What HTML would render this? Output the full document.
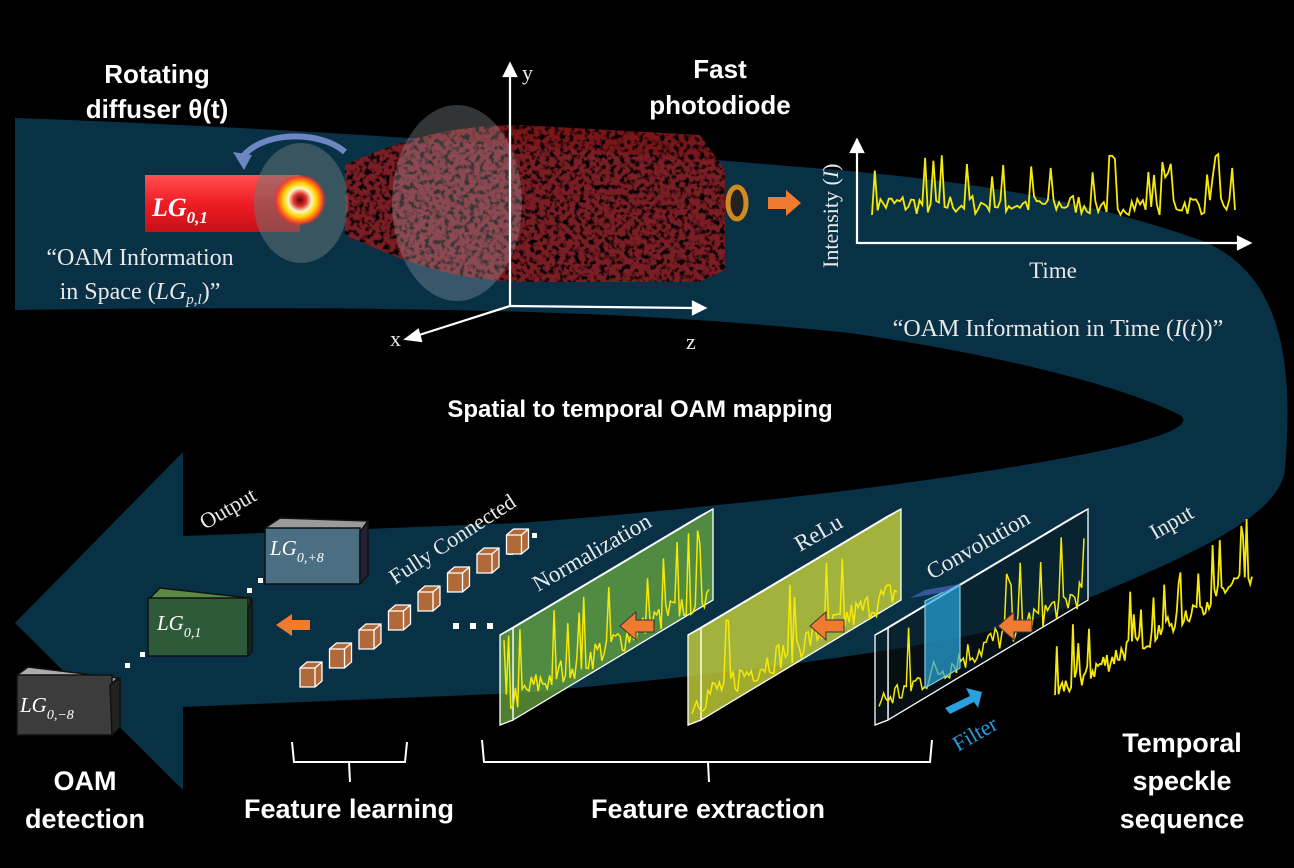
<!DOCTYPE html>
<html><head><meta charset="utf-8"><style>
html,body{margin:0;padding:0;background:#000;}
svg{display:block}
.sans{font-family:"Liberation Sans",sans-serif;font-weight:bold;fill:#fff}
.ser{font-family:"Liberation Serif",serif;fill:#e8e8e8}
</style></head><body>
<svg id="s" width="1294" height="868" viewBox="0 0 1294 868" xmlns="http://www.w3.org/2000/svg">
<defs>
<linearGradient id="beam" x1="0" y1="0" x2="0" y2="1"><stop offset="0" stop-color="#ff5050"/><stop offset="0.5" stop-color="#ee1c24"/><stop offset="1" stop-color="#c81018"/></linearGradient>
<radialGradient id="donut"><stop offset="0" stop-color="#600"/><stop offset="0.25" stop-color="#d33"/><stop offset="0.45" stop-color="#fff8c0"/><stop offset="0.65" stop-color="#ffd000"/><stop offset="0.85" stop-color="#ff5020"/><stop offset="1" stop-color="#ff2020" stop-opacity="0"/></radialGradient>
<filter id="speck" x="0" y="0" width="100%" height="100%"><feTurbulence type="fractalNoise" baseFrequency="0.2" numOctaves="2" seed="3"/><feColorMatrix values="0 0 0 0 0  0 0 0 0 0  0 0 0 0 0  0 0 0 4 -1.9"/><feComposite in2="SourceGraphic" operator="in"/></filter>
</defs>
<path d="M15,118 C300,128 600,150 850,171 C1000,185 1100,205 1200,240 C1290,275 1292,380 1285,470 C1278,520 1180,560 1050,614 C980,640 800,668 520,693 L183,707 L183,790 L15,623 L183,452 L183,536 L520,523 C750,505 950,480 1080,455 C1160,440 1195,425 1180,415 C1120,385 1000,355 850,333 C700,318 520,303 15,310 Z" fill="#0b3a52" opacity="0.85"/>
<text class="sans" font-size="26" text-anchor="middle" x="157" y="83">Rotating</text>
<text class="sans" font-size="26" text-anchor="middle" x="157" y="118">diffuser θ(t)</text>
<text class="sans" font-size="26" text-anchor="middle" x="720" y="78">Fast</text>
<text class="sans" font-size="26" text-anchor="middle" x="720" y="114">photodiode</text>
<path d="M345,165 C400,140 450,125 520,125 L700,135 L725,170 L725,270 L700,282 L520,282 C450,280 400,260 345,235 Z" fill="#8e1a1e" opacity="0.85"/>
<path d="M345,165 C400,140 450,125 520,125 L700,135 L725,170 L725,270 L700,282 L520,282 C450,280 400,260 345,235 Z" fill="#fff" filter="url(#speck)"/>
<rect x="145" y="175" width="155" height="57" fill="url(#beam)"/>
<text x="152" y="216" font-family="Liberation Serif,serif" font-style="italic" font-weight="bold" font-size="26" fill="#fff">LG<tspan font-size="17" dy="7">0,1</tspan></text>
<ellipse cx="301" cy="203" rx="47" ry="60" fill="#6a7a78" opacity="0.5"/>
<circle cx="300" cy="200" r="26" fill="url(#donut)"/>
<path d="M240,160 C260,130 320,130 345,152" fill="none" stroke="#6d85c0" stroke-width="6"/>
<path d="M233,152 L244,170 L252,155 Z" fill="#6d85c0"/>
<ellipse cx="457" cy="203" rx="65" ry="98" fill="#c8d0d8" opacity="0.25"/>
<g stroke="#fff" stroke-width="2.2" fill="#fff">
<line x1="510" y1="306" x2="510" y2="74"/><path d="M504,76 L510,64 L516,76 Z"/>
<line x1="510" y1="306" x2="695" y2="308"/><path d="M693,302 L705,308 L693,314 Z"/>
<line x1="510" y1="306" x2="416" y2="336"/><path d="M418,330 L406,339 L421,341 Z"/>
</g>
<text class="ser" font-size="22" x="522" y="80">y</text>
<text class="ser" font-size="22" x="390" y="346">x</text>
<text class="ser" font-size="22" x="686" y="349">z</text>
<ellipse cx="737" cy="203" rx="9" ry="16" fill="#222" stroke="#d08a20" stroke-width="5"/>
<rect x="768" y="197" width="20" height="12" fill="#f07a30"/><path d="M786,190 L801,203 L786,216 Z" fill="#f07a30"/>
<g stroke="#fff" stroke-width="2.2" fill="#fff">
<line x1="857" y1="244" x2="857" y2="150"/><path d="M851,152 L857,140 L863,152 Z"/>
<line x1="857" y1="243" x2="1240" y2="243"/><path d="M1238,237 L1250,243 L1238,249 Z"/>
</g>
<text class="ser" font-size="22" transform="translate(838,268) rotate(-90)">Intensity (<tspan font-style="italic">I</tspan>)</text>
<text class="ser" font-size="23" text-anchor="middle" x="1053" y="278">Time</text>
<text class="ser" font-size="24" text-anchor="middle" x="140" y="265">“OAM Information</text>
<text class="ser" font-size="24" text-anchor="middle" x="140" y="299">in Space (<tspan font-style="italic">LG</tspan><tspan font-style="italic" font-size="15" dy="5">p,l</tspan><tspan dy="-5">)”</tspan></text>
<text class="ser" font-size="24" text-anchor="middle" x="1058" y="336">“OAM Information in Time (<tspan font-style="italic">I</tspan>(<tspan font-style="italic">t</tspan>))”</text>
<text class="sans" font-size="24" text-anchor="middle" x="640" y="417">Spatial to temporal OAM mapping</text>
<g id="panels"></g>
<g stroke="#111" stroke-width="1.5">
<path d="M265,528 L280,518 L368,521 L360,532 Z" fill="#9a9a9a"/><rect x="265" y="528" width="95" height="56" fill="#4a6e82"/><path d="M360,532 L368,521 L368,575 L360,584 Z" fill="#223"/>
<path d="M148,600 L160,588 L250,598 L250,610 Z" fill="#5b8a44"/><rect x="148" y="598" width="100" height="58" fill="#2f5a3a"/><path d="M248,610 L252,598 L252,652 L248,656 Z" fill="#142a1a"/>
<path d="M17,675 L28,667 L118,678 L110,685 Z" fill="#aaa"/><rect x="17" y="675" width="95" height="60" fill="#3c3c3c"/><path d="M110,685 L120,678 L120,727 L112,735 Z" fill="#222"/>
</g>
<text font-family="Liberation Serif,serif" font-style="italic" font-size="21" fill="#fff" x="270" y="555">LG<tspan font-size="14" dy="7">0,+8</tspan></text>
<text font-family="Liberation Serif,serif" font-style="italic" font-size="21" fill="#fff" x="157" y="630">LG<tspan font-size="14" dy="7">0,1</tspan></text>
<text font-family="Liberation Serif,serif" font-style="italic" font-size="21" fill="#fff" x="20" y="712">LG<tspan font-size="14" dy="7">0,−8</tspan></text>
<g fill="#fff"><rect x="247" y="588" width="5" height="5"/><rect x="258" y="578" width="5" height="5"/><rect x="125" y="663" width="5" height="5"/><rect x="140" y="652" width="5" height="5"/>
<rect x="453" y="623" width="6" height="6"/><rect x="470" y="623" width="6" height="6"/><rect x="487" y="623" width="6" height="6"/>
<rect x="508" y="550" width="5" height="5"/><rect x="520" y="541" width="5" height="5"/><rect x="532" y="533" width="5" height="5"/></g>
<rect x="290" y="620" width="20" height="10" fill="#f07a30"/><path d="M292,614 L276,625 L292,636 Z" fill="#f07a30"/>
<g id="cubes"></g>
<text class="ser" font-size="22" transform="translate(205,530) rotate(-30)">Output</text>
<text class="ser" font-size="22" transform="translate(395,585) rotate(-33)">Fully Connected</text>
<text class="ser" font-size="23" transform="translate(538,592) rotate(-30)">Normalization</text>
<text class="ser" font-size="23" transform="translate(800,552) rotate(-30)">ReLu</text>
<text class="ser" font-size="23" transform="translate(932,580) rotate(-30)">Convolution</text>
<text class="ser" font-size="22" transform="translate(1155,540) rotate(-30)">Input</text>
<text font-family="Liberation Serif,serif" font-size="22" fill="#2a9ad8" transform="translate(958,752) rotate(-30)">Filter</text>
<path d="M945,708 L970,696 L966,688 L982,692 L978,708 L974,702 L950,714 Z" fill="#2aa0e0"/>
<g fill="none" stroke="#fff" stroke-width="2">
<path d="M292,742 L294,762 L349,762 L350,782 M349,762 L405,762 L407,742"/>
<path d="M482,740 L484,762 L708,762 L709,782 M708,762 L930,762 L932,740"/>
</g>
<text class="sans" font-size="27" text-anchor="middle" x="85" y="790">OAM</text>
<text class="sans" font-size="27" text-anchor="middle" x="85" y="828">detection</text>
<text class="sans" font-size="27" text-anchor="middle" x="349" y="818">Feature learning</text>
<text class="sans" font-size="27" text-anchor="middle" x="708" y="818">Feature extraction</text>
<text class="sans" font-size="27" text-anchor="middle" x="1182" y="752">Temporal</text>
<text class="sans" font-size="27" text-anchor="middle" x="1182" y="790">speckle</text>
<text class="sans" font-size="27" text-anchor="middle" x="1182" y="828">sequence</text>
<g id="sig"></g>
</svg>
<script>
var seed=7;function r(){seed=(seed*16807)%2147483647;return seed/2147483647;}
var NS="http://www.w3.org/2000/svg";
function el(p,t,a){var e=document.createElementNS(NS,t);for(var k in a)e.setAttribute(k,a[k]);document.getElementById(p).appendChild(e);return e;}
function sig(x0,y0,x1,y1,n,amp,w){var pts=[];for(var i=0;i<=n;i++){var t=i/n;var v=r();var h=v>0.88?amp*(0.6+r()*0.4):v*amp*0.35;pts.push((x0+(x1-x0)*t).toFixed(1)+","+(y0+(y1-y0)*t-h).toFixed(1));}
el("sig","polyline",{points:pts.join(" "),fill:"none",stroke:"#f5e90a","stroke-width":w||1.6});}
sig(872,215,1235,215,130,62,1.8);
sig(1055,705,1252,585,110,70,1.8);
function panel(x,fill,op){
 var g="panels";
 el(g,"polygon",{points:(x+13)+",628 "+(x+213)+",509 "+(x+213)+",600 "+(x+13)+",720",fill:fill,"fill-opacity":op,stroke:"#fff","stroke-width":1.3});
 el(g,"polygon",{points:x+",635 "+(x+13)+",628 "+(x+13)+",720 "+x+",725",fill:fill,"fill-opacity":op,stroke:"#fff","stroke-width":1.3});
 el(g,"polygon",{points:x+",635 "+(x+200)+",516 "+(x+213)+",509 "+(x+13)+",628",fill:fill,"fill-opacity":op*0.8,stroke:"#fff","stroke-width":1.3});
 var pts=[],n=90;for(var i=0;i<=n;i++){var t=i/n;var v=r();var h=v>0.88?60+r()*25:v*30;pts.push((x+4+205*t).toFixed(1)+","+(718-112*t-h).toFixed(1));}
 el(g,"polyline",{points:pts.join(" "),fill:"none",stroke:"#f5e90a","stroke-width":1.5});
}
panel(500,"#6aa840",0.75);panel(688,"#c8d43a",0.8);panel(875,"#0a1a22",0.6);
el("panels","polygon",{points:"925,601 960,584 960,668 925,688",fill:"#2aa6e0","fill-opacity":0.7,stroke:"#8cd","stroke-width":1.2});
el("panels","polygon",{points:"910,598 925,590 960,584 945,592",fill:"#4060b0","fill-opacity":0.8});
[[622,626],[812,626],[1000,626]].forEach(function(a){el("panels","path",{d:"M"+(a[0]+32)+","+(a[1]-6)+" h-18 v-8 l-16,14 l16,14 v-8 h18 z",fill:"#f07a30",stroke:"#334","stroke-width":1});});
for(var i=0;i<8;i++){var cx=300+i*29.5,cy=668-i*19;
 el("cubes","polygon",{points:cx+","+cy+" "+(cx+7)+","+(cy-6)+" "+(cx+22)+","+(cy-6)+" "+(cx+22)+","+(cy+13)+" "+(cx+15)+","+(cy+19)+" "+cx+","+(cy+19),fill:"#b06a3a",stroke:"#fff","stroke-width":1.3});
 el("cubes","polyline",{points:cx+","+cy+" "+(cx+15)+","+cy+" "+(cx+22)+","+(cy-6),fill:"none",stroke:"#fff","stroke-width":1.3});
 el("cubes","line",{x1:cx+15,y1:cy,x2:cx+15,y2:cy+19,stroke:"#fff","stroke-width":1.3});}
</script>
</body></html>
